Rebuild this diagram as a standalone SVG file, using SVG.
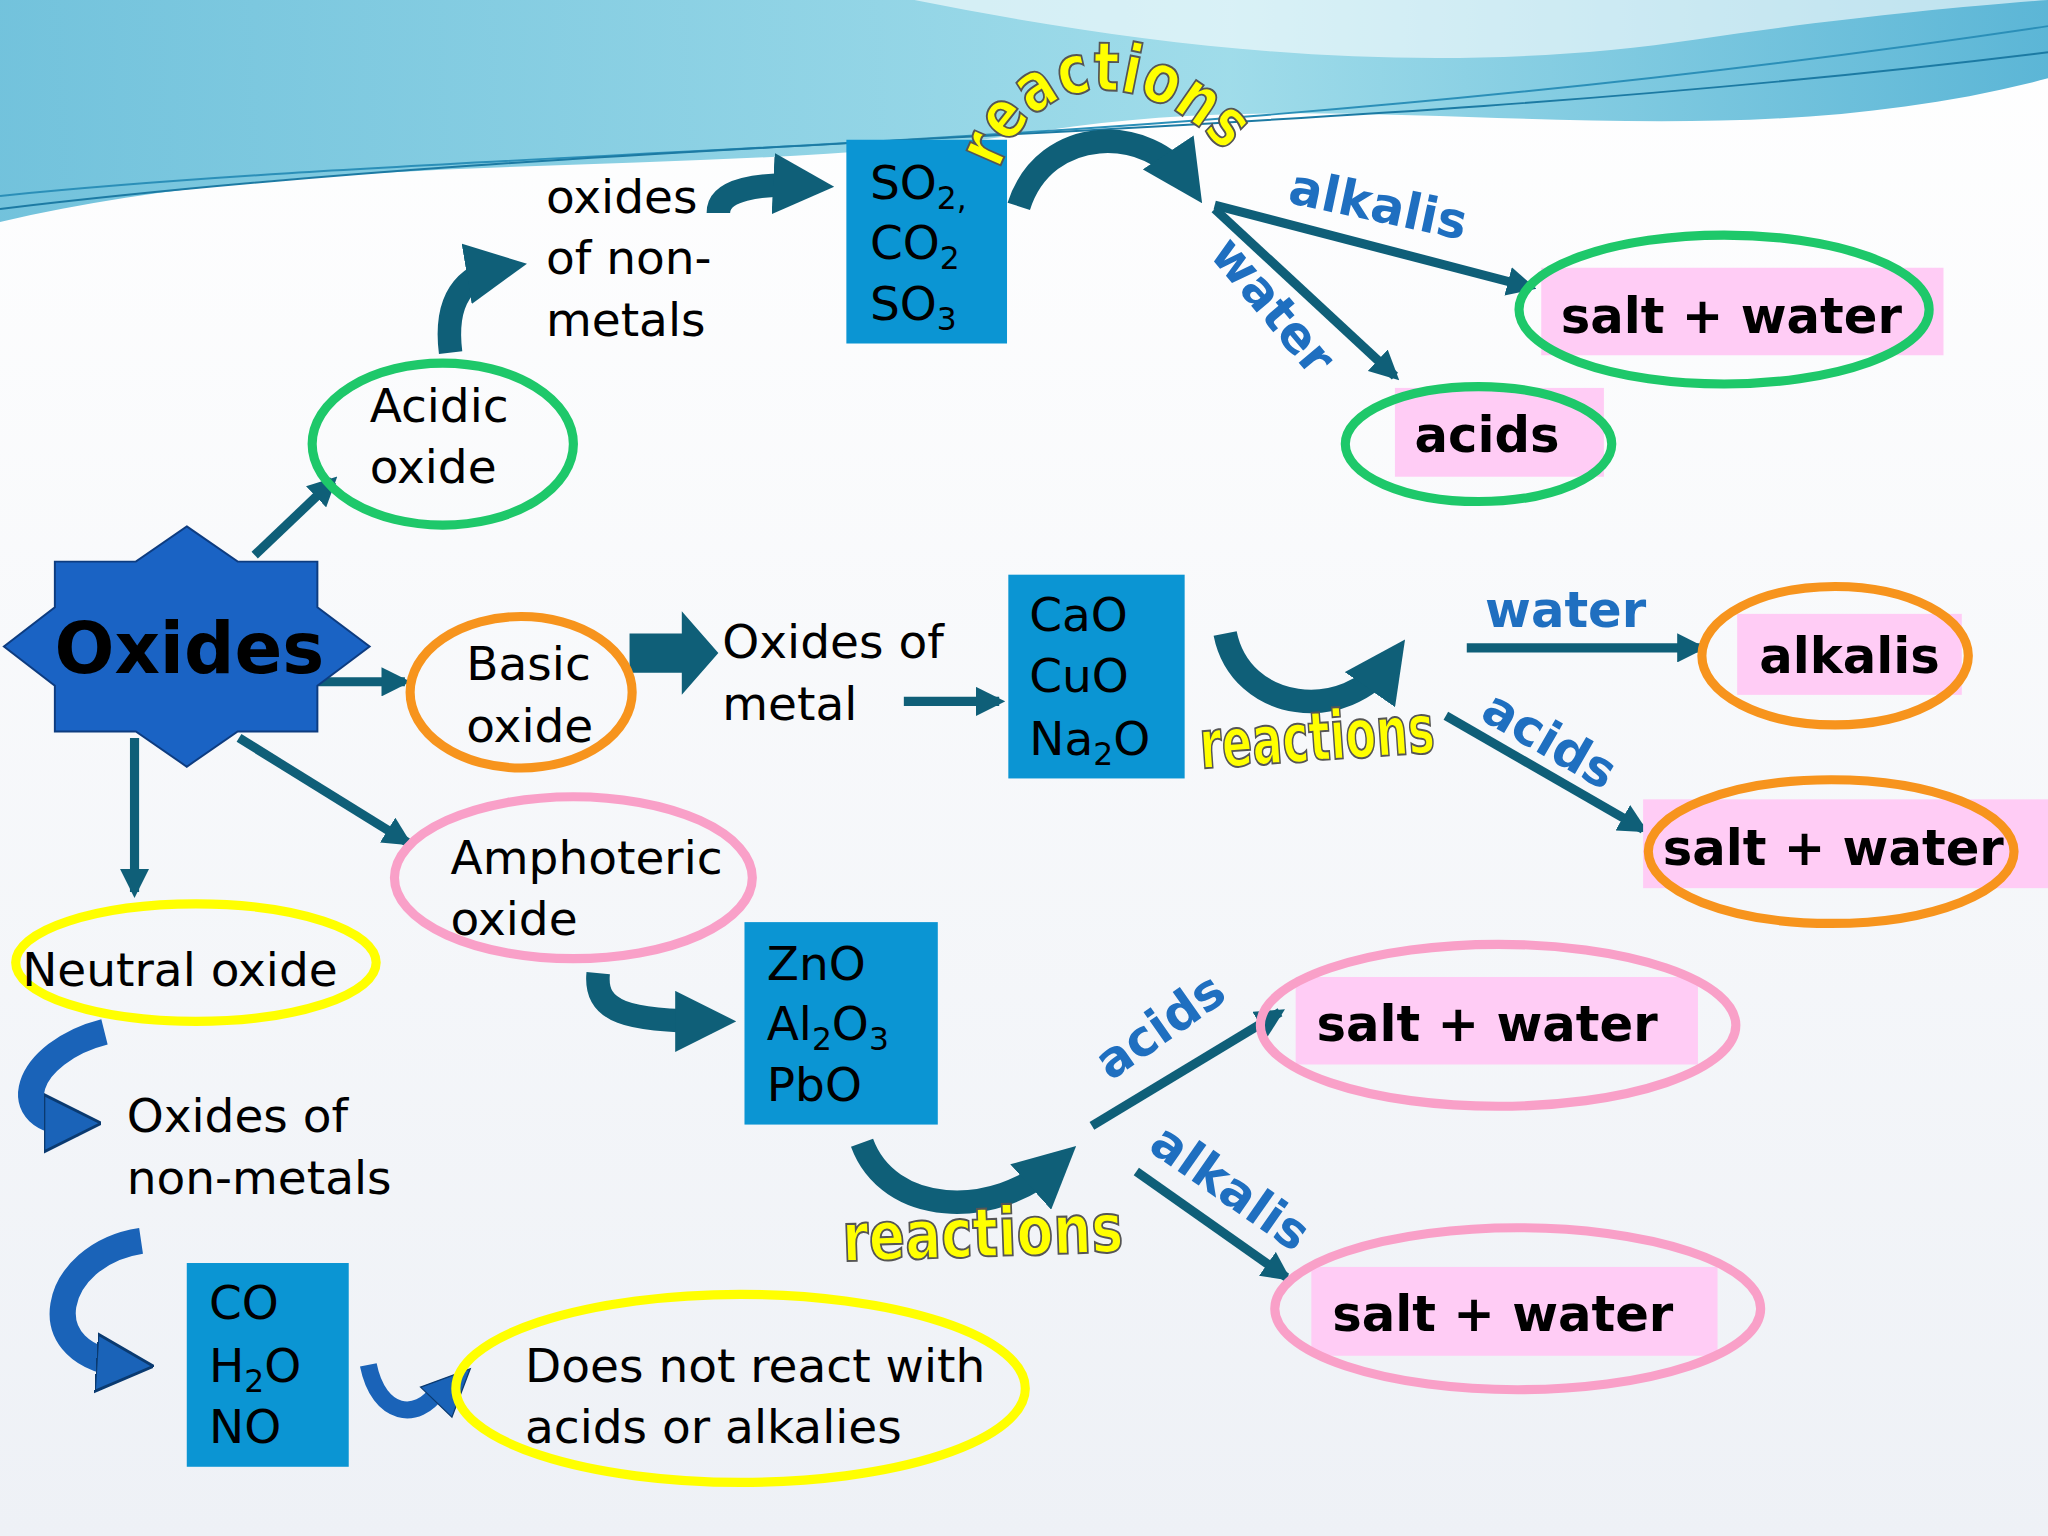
<svg xmlns="http://www.w3.org/2000/svg" width="2048" height="1536" viewBox="0 0 2048 1536">
<defs>
<linearGradient id="bg" x1="0" y1="0" x2="0" y2="1"><stop offset="0" stop-color="#ffffff"/><stop offset="1" stop-color="#eef1f6"/></linearGradient>
<linearGradient id="wave" x1="0" y1="0" x2="1" y2="0"><stop offset="0" stop-color="#5ab8d6"/><stop offset="0.6" stop-color="#8fd6e6"/><stop offset="1" stop-color="#3fa9cf"/></linearGradient>
<path id="arc1" d="M765,130 C790,55 880,45 945,125"/>
<marker id="ah" viewBox="0 0 10 10" refX="8" refY="5" markerWidth="3.2" markerHeight="3.2" orient="auto"><path d="M0,0 L10,5 L0,10 Z" fill="#0f5f78"/></marker>
<marker id="bh" viewBox="0 0 10 10" refX="6" refY="5" markerWidth="2.6" markerHeight="2.6" orient="auto"><path d="M0,0 L10,5 L0,10 Z" fill="#0f5f78"/></marker>
<marker id="ch" viewBox="0 0 10 10" refX="6" refY="5" markerWidth="2.2" markerHeight="2.6" orient="auto"><path d="M0,0 L10,5 L0,10 Z" fill="#1a63b8" stroke="#0a3a70" stroke-width="0.5"/></marker>
<style>
text{font-family:"DejaVu Sans","Liberation Sans",sans-serif;fill:#000}
.t{font-size:36px}
.b{font-size:38px;font-weight:bold}
.lab{font-size:38px;font-weight:bold;fill:#1f6fc0}
.box{fill:#0b95d3}
.pk{fill:#ffccf5}
.ln{stroke:#0f5f78;stroke-width:7;fill:none;marker-end:url(#ah)}
.fat{stroke:#0f5f78;stroke-width:18;fill:none;marker-end:url(#bh)}
.blu{stroke:#1a63b8;stroke-width:20;fill:none;marker-end:url(#ch)}
.re{font-family:"Liberation Sans Narrow","DejaVu Sans Condensed",sans-serif;font-weight:bold;fill:#ffff00;stroke:#555;stroke-width:1.5;font-size:52px}
</style>
</defs>
<g transform="scale(1.30612)">
<rect width="1568" height="1176" fill="url(#bg)"/>
<path d="M0,0 H1568 V60 C1300,130 1050,60 800,100 C550,140 250,110 0,170 Z" fill="url(#wave)" opacity="0.85"/>
<path d="M700,0 C900,40 1100,60 1300,30 C1400,15 1500,5 1568,0 Z" fill="#ffffff" opacity="0.6"/>
<path d="M0,150 C400,110 900,120 1568,20" stroke="#2b8fb8" stroke-width="1.5" fill="none"/>
<path d="M0,160 C500,100 1000,110 1568,40" stroke="#1c7aa3" stroke-width="1.5" fill="none"/>

<g id="connectors">
<line class="ln" x1="195" y1="425" x2="255" y2="368"/>
<line class="ln" x1="243" y1="522" x2="310" y2="522"/>
<line class="ln" x1="183" y1="565" x2="312" y2="645"/>
<line class="ln" x1="103" y1="565" x2="103" y2="683"/>
<line class="ln" x1="692" y1="537" x2="765" y2="537"/>
<line class="ln" x1="930" y1="157" x2="1172" y2="220"/>
<line class="ln" x1="930" y1="160" x2="1068" y2="288"/>
<line class="ln" x1="1123" y1="496" x2="1302" y2="496"/>
<line class="ln" x1="1107" y1="548" x2="1258" y2="635"/>
<line class="ln" x1="836" y1="862" x2="980" y2="775"/>
<line class="ln" x1="870" y1="897" x2="985" y2="978"/>
<path class="fat" d="M345,270 C340,230 355,210 385,205"/>
<path class="fat" d="M550,163 C550,145 580,140 620,142"/>
<path class="fat" d="M458,745 C455,775 480,782 545,782"/>
<polygon points="482,485 522,485 522,468 550,500 522,532 522,515 482,515" fill="#0f5f78"/>
<path class="fat" d="M780,158 C800,95 880,95 910,140" stroke-width="26"/>
<path class="fat" d="M938,485 C950,545 1030,555 1065,505" stroke-width="26"/>
<path class="fat" d="M660,875 C680,930 760,935 810,890" stroke-width="26"/>
<path class="blu" d="M80,790 C20,805 0,860 60,860"/>
<path class="blu" d="M108,950 C40,960 20,1040 100,1045"/>
<path d="M282,1045 C290,1085 320,1088 335,1065" stroke="#1a63b8" stroke-width="13" fill="none"/>
<polygon points="322,1062 360,1048 346,1085" fill="#1a63b8" stroke="#0a3a70" stroke-width="1"/>
</g>

<g id="oxides">
<polygon points="143,403 182,430 243,430 243,465 283,495 243,525 243,560 182,560 143,587 104,560 42,560 42,525 3,495 42,465 42,430 104,430" fill="#1a63c4" stroke="#0d3c80" stroke-width="1.5"/>
<text x="145" y="515" font-size="54" font-weight="bold" text-anchor="middle">Oxides</text>
</g>

<g id="acidic"><ellipse cx="339" cy="340" rx="100" ry="62" fill="none" stroke="#1ec86a" stroke-width="7"/><text class="t" x="283" y="323">Acidic</text><text class="t" x="283" y="370">oxide</text></g>
<g id="nonmetals"><text class="t" x="418" y="163">oxides</text><text class="t" x="418" y="210">of non-</text><text class="t" x="418" y="257">metals</text></g>
<g id="so2"><rect class="box" x="648" y="107" width="123" height="156"/><text class="t" x="666" y="152">SO<tspan font-size="24" dy="8">2,</tspan></text><text class="t" x="666" y="198">CO<tspan font-size="24" dy="8">2</tspan></text><text class="t" x="666" y="245">SO<tspan font-size="24" dy="8">3</tspan></text></g>
<text class="re" font-size="44"><textPath href="#arc1" textLength="215" lengthAdjust="spacingAndGlyphs">reactions</textPath></text>
<text class="lab" transform="translate(985,155) rotate(12)">alkalis</text>
<text class="lab" transform="translate(925,195) rotate(50)">water</text>
<g id="sw1"><rect class="pk" x="1180" y="205" width="308" height="67"/><ellipse cx="1320" cy="237" rx="157" ry="57" fill="none" stroke="#1ec86a" stroke-width="7"/><text class="b" x="1195" y="255">salt + water</text></g>
<g id="acids1"><rect class="pk" x="1068" y="297" width="160" height="68"/><ellipse cx="1132" cy="340" rx="102" ry="44" fill="none" stroke="#1ec86a" stroke-width="7"/><text class="b" x="1083" y="346">acids</text></g>

<g id="basic"><ellipse cx="399" cy="530" rx="85" ry="58" fill="none" stroke="#f7941d" stroke-width="7"/><text class="t" x="357" y="521">Basic</text><text class="t" x="357" y="568">oxide</text></g>
<g id="metal"><text class="t" x="553" y="504">Oxides of</text><text class="t" x="553" y="551">metal</text></g>
<g id="cao"><rect class="box" x="772" y="440" width="135" height="156"/><text class="t" x="788" y="483">CaO</text><text class="t" x="788" y="530">CuO</text><text class="t" x="788" y="578">Na<tspan font-size="24" dy="8">2</tspan><tspan dy="-8">O</tspan></text></g>
<text class="re" x="918" y="582" transform="rotate(-4,1010,560)" textLength="180" lengthAdjust="spacingAndGlyphs">reactions</text>
<text class="lab" x="1137" y="480">water</text>
<text class="lab" transform="translate(1132,550) rotate(30)">acids</text>
<g id="alk"><rect class="pk" x="1330" y="470" width="172" height="62"/><ellipse cx="1405" cy="502" rx="102" ry="53" fill="none" stroke="#f7941d" stroke-width="7"/><text class="b" x="1347" y="515">alkalis</text></g>
<g id="sw2"><rect class="pk" x="1258" y="612" width="310" height="68"/><ellipse cx="1402" cy="652" rx="140" ry="55" fill="none" stroke="#f7941d" stroke-width="7"/><text class="b" x="1273" y="662">salt + water</text></g>

<g id="amph"><ellipse cx="439" cy="672" rx="137" ry="62" fill="none" stroke="#f9a0c8" stroke-width="7"/><text class="t" x="345" y="669">Amphoteric</text><text class="t" x="345" y="716">oxide</text></g>
<g id="zno"><rect class="box" x="570" y="706" width="148" height="155"/><text class="t" x="587" y="750">ZnO</text><text class="t" x="587" y="796">Al<tspan font-size="24" dy="8">2</tspan><tspan dy="-8">O</tspan><tspan font-size="24" dy="8">3</tspan></text><text class="t" x="587" y="843">PbO</text></g>
<text class="re" x="645" y="962" transform="rotate(-2,750,950)" textLength="215" lengthAdjust="spacingAndGlyphs">reactions</text>
<text class="lab" transform="translate(850,828) rotate(-35)">acids</text>
<text class="lab" transform="translate(878,880) rotate(35)">alkalis</text>
<g id="sw3"><rect class="pk" x="992" y="748" width="308" height="67"/><ellipse cx="1147" cy="785" rx="182" ry="62" fill="none" stroke="#f9a0c8" stroke-width="7"/><text class="b" x="1008" y="797">salt + water</text></g>
<g id="sw4"><rect class="pk" x="1004" y="970" width="311" height="68"/><ellipse cx="1162" cy="1002" rx="186" ry="62" fill="none" stroke="#f9a0c8" stroke-width="7"/><text class="b" x="1020" y="1019">salt + water</text></g>

<g id="neutral"><ellipse cx="150" cy="737" rx="138" ry="45" fill="none" stroke="#ffff00" stroke-width="7"/><text class="t" x="17" y="755">Neutral oxide</text></g>
<g id="nm2"><text class="t" x="97" y="867">Oxides of</text><text class="t" x="97" y="914">non-metals</text></g>
<g id="co"><rect class="box" x="143" y="967" width="124" height="156"/><text class="t" x="160" y="1010">CO</text><text class="t" x="160" y="1058">H<tspan font-size="24" dy="8">2</tspan><tspan dy="-8">O</tspan></text><text class="t" x="160" y="1105">NO</text></g>
<g id="noreact"><ellipse cx="567" cy="1063" rx="218" ry="72" fill="none" stroke="#ffff00" stroke-width="7"/><text class="t" x="402" y="1058">Does not react with</text><text class="t" x="402" y="1105">acids or alkalies</text></g>
</g>
</svg>
